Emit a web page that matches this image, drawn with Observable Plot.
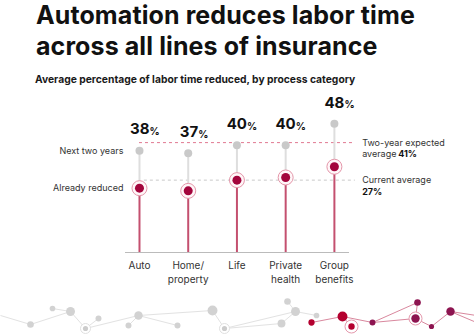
<!DOCTYPE html>
<html>
<head>
<meta charset="utf-8">
<script src="https://cdn.jsdelivr.net/npm/d3@7"></script>
<script src="https://cdn.jsdelivr.net/npm/@observablehq/plot@0.6"></script>
<style>
  html, body { margin: 0; padding: 0; background: #fff; width: 474px; height: 335px; overflow: hidden; font-family: Inter, "Liberation Sans", sans-serif; }
  #title { position: absolute; left: 36px; top: 0px; font-size: 25px; font-weight: 700; line-height: 30.5px; color: #111; letter-spacing: 0.1px; white-space: nowrap; }
  #subtitle { position: absolute; left: 35px; top: 73px; font-size: 10.3px; font-weight: 700; color: #1a1a1a; white-space: nowrap; }
  #chart { position: absolute; left: 0; top: 95px; }
  #deco { position: absolute; left: 0; top: 290px; }
</style>
</head>
<body>
<div id="title">Automation reduces labor time<br>across all lines of insurance</div>
<div id="subtitle">Average percentage of labor time reduced, by process category</div>
<div id="chart"></div>
<div id="deco"></div>
<script>
// ---- data ----
const categories = ["Auto", "Home/\nproperty", "Life", "Private\nhealth", "Group\nbenefits"];
const alreadyReduced = [24, 23, 27, 28, 32];
const nextTwoYears = [38, 37, 40, 40, 48];
const currentAverage = 27;
const expectedAverage = 41;
const rowLabels = ["Next two years", "Already reduced"];

// decorative network (bottom strip), in its own abstract coordinates
const decoGreyNodes = [[30,324,2.5],[52,308,1.8],[70,311,4.5],[98,318,2],[128,325,2],[138,315,4],[177,325,2],[212,310,5.5],[281,323,3.5],[287,301,2.5],[295,311,4.5],[316,315,1.8]];
const decoGreyRings = [[85,328,1.5],[224,328,1.5]];
const decoRedNodes = [[311,322,2.2],[342,316,5.5],[372,322,2],[417,302,2.5],[431,326,1.5],[450,311,4]];
const decoRedRings = [[351,326,2.3],[415,318,4]];
const decoGreyLinks = [[0,315,30,324],[30,324,70,311],[52,308,70,311],[70,311,85,328],[85,328,98,318],[85,328,138,315],[138,315,212,310],[138,315,177,325],[128,325,138,315],[212,310,224,328],[224,328,295,311],[224,328,281,323],[281,323,295,311],[287,301,295,311],[295,311,316,315]];
const decoRedLinks = [[311,322,342,316],[342,316,372,322],[342,316,351,326],[372,322,417,302],[372,322,415,318],[417,302,415,318],[415,318,431,326],[431,326,450,311],[450,311,476,315],[450,311,476,322]];

const rows = categories.map((c, i) => ({i, cat: c, reduced: alreadyReduced[i], next: nextTwoYears[i]}));

const crimson = "#a3053c";
const stemRed = "#c4506f";
const ringPink = "#e497aa";
const dashPink = "#e07890";
const grey = "#c9c9c9";
const font = "Inter, 'Liberation Sans', sans-serif";

const chart = Plot.plot({
  width: 474,
  height: 240,
  marginLeft: 125,
  marginRight: 125,
  marginTop: 23,
  marginBottom: 83,
  style: {fontFamily: font, background: "transparent", overflow: "visible"},
  x: {domain: [-0.287, 4.31], axis: null},
  y: {domain: [0, 50], axis: null},
  marks: [
    Plot.ruleY([expectedAverage], {x1: 0, x2: 4.43, stroke: dashPink, strokeWidth: 1, strokeDasharray: "3,3"}),
    Plot.ruleY([currentAverage], {x1: 0.1, x2: 4.43, stroke: grey, strokeWidth: 1, strokeDasharray: "3,3"}),
    Plot.ruleY([0], {stroke: "#bbb", strokeWidth: 1}),
    Plot.ruleX(rows, {x: "i", y1: "reduced", y2: "next", stroke: "#dedede", strokeWidth: 2}),
    Plot.ruleX(rows, {x: "i", y1: 0, y2: "reduced", stroke: stemRed, strokeWidth: 2}),
    Plot.dot(rows, {x: "i", y: "next", r: 4, fill: grey}),
    Plot.dot(rows, {x: "i", y: "reduced", r: 7.5, fill: "#fff6f8", stroke: ringPink, strokeWidth: 1}),
    Plot.dot(rows, {x: "i", y: "reduced", r: 4.5, fill: crimson}),
    Plot.text(rows, {x: "i", y: "next", text: d => String(d.next), textAnchor: "end", dx: 10, dy: -21, fontSize: 15, fontWeight: 700, fill: "#111"}),
    Plot.text(rows, {x: "i", y: "next", text: () => "%", textAnchor: "start", dx: 10, dy: -19, fontSize: 10, fontWeight: 700, fill: "#111"}),
    Plot.text([rowLabels[0]], {x: -0.33, y: nextTwoYears[0], text: d => d, textAnchor: "end", fontSize: 9, fill: "#333"}),
    Plot.text([rowLabels[1]], {x: -0.33, y: alreadyReduced[0], text: d => d, textAnchor: "end", fontSize: 9, fill: "#333"}),
    Plot.text(["Two-year expected"], {x: 4.57, y: expectedAverage, text: d => d, textAnchor: "start", fontSize: 9, fill: "#333"}),
    Plot.text(["average"], {x: 4.57, y: expectedAverage, dy: 11.5, text: d => d, textAnchor: "start", fontSize: 9, fill: "#333"}),
    Plot.text([expectedAverage + "%"], {x: 4.57, y: expectedAverage, dx: 36, dy: 11.5, text: d => d, textAnchor: "start", fontSize: 9, fontWeight: 700, fill: "#111"}),
    Plot.text(["Current average"], {x: 4.57, y: currentAverage, text: d => d, textAnchor: "start", fontSize: 9, fill: "#333"}),
    Plot.text([currentAverage + "%"], {x: 4.57, y: currentAverage, dy: 11.5, text: d => d, textAnchor: "start", fontSize: 9, fontWeight: 700, fill: "#111"}),
    Plot.text(rows, {x: "i", y: 0, text: "cat", lineAnchor: "top", dy: 7, fontSize: 10, lineHeight: 1.35, fill: "#333"})
  ]
});
document.getElementById("chart").appendChild(chart);

const deco = Plot.plot({
  width: 474,
  height: 45,
  margin: 0,
  style: {background: "transparent", overflow: "visible"},
  x: {domain: [0, 474], axis: null},
  y: {domain: [290, 335], range: [0, 45], axis: null},
  marks: [
    Plot.link(decoGreyLinks, {x1: d => d[0], y1: d => d[1], x2: d => d[2], y2: d => d[3], stroke: "#e2e2e2", strokeWidth: 1}),
    Plot.link(decoRedLinks, {x1: d => d[0], y1: d => d[1], x2: d => d[2], y2: d => d[3], stroke: "#d9889e", strokeWidth: 1}),
    Plot.dot(decoGreyRings, {x: d => d[0], y: d => d[1], r: 5, fill: "#fff", stroke: "#e0e0e0", strokeWidth: 1}),
    Plot.dot(decoGreyRings, {x: d => d[0], y: d => d[1], r: d => d[2], fill: "#cccccc"}),
    Plot.dot(decoGreyNodes, {x: d => d[0], y: d => d[1], r: d => d[2], fill: "#d2d2d2"}),
    Plot.dot(decoRedRings, {x: d => d[0], y: d => d[1], r: 6.5, fill: "#fff", stroke: "#e59aae", strokeWidth: 1}),
    Plot.dot(decoRedRings, {x: d => d[0], y: d => d[1], r: d => d[2], fill: (d, i) => i === 0 ? "#b4002f" : "#8d1450"}),
    Plot.dot(decoRedNodes, {x: d => d[0], y: d => d[1], r: d => d[2], fill: d => d[0] < 360 ? "#b4002f" : "#8d1450"})
  ]
});
document.getElementById("deco").appendChild(deco);
</script>
</body>
</html>
